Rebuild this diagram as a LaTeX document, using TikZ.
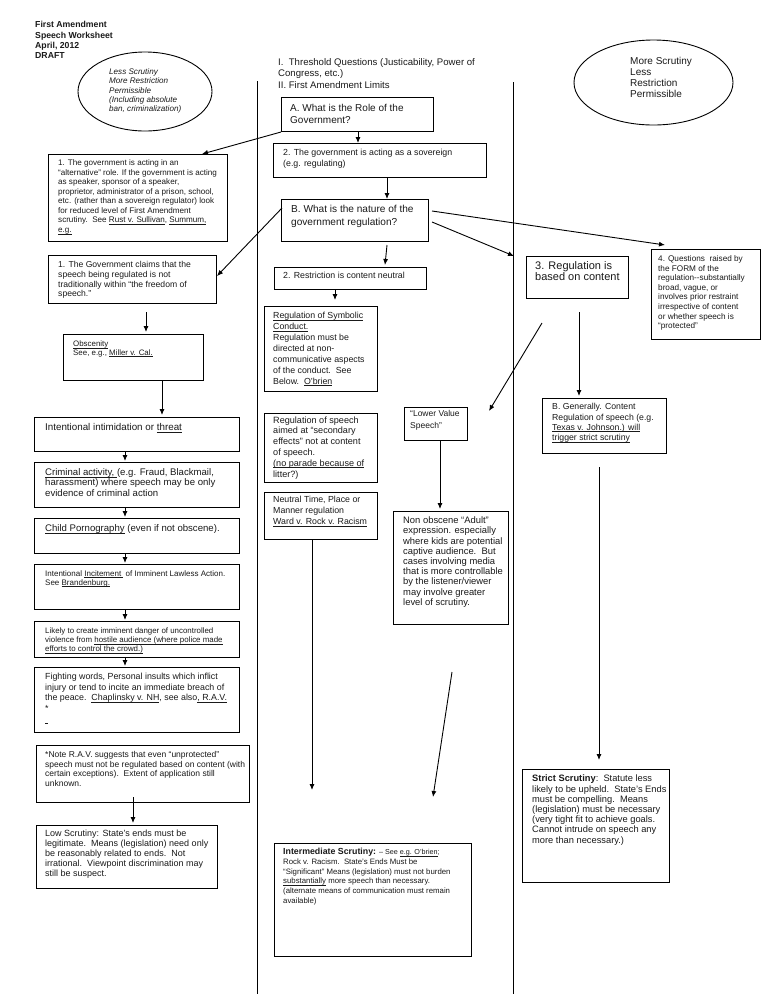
\documentclass[tikz,border=0pt]{standalone}
\usepackage{fontspec}
\setmainfont{Liberation Sans}
\usetikzlibrary{arrows.meta,calc,shapes.geometric}
\newcommand\fsz[2]{\fontsize{#1pt}{#2pt}\selectfont}
\newcommand\ul[1]{\leavevmode\setbox0=\hbox{#1}\rlap{\rule[-1.6pt]{\wd0}{0.55pt}}\box0\relax}
\definecolor{txt}{HTML}{1A1A1A}
\lineskiplimit=-100pt
\begin{document}
\begin{tikzpicture}[x=1pt,y=-1pt,
  bx/.style={draw=black, line width=1pt, inner sep=0pt, anchor=north west, rectangle},
  tx/.style={anchor=north west, inner sep=0pt, align=left, text=txt},
  arr/.style={line width=0.9pt, -{Latex[length=6pt,width=5pt]}},
  ln/.style={line width=0.9pt}]
\useasboundingbox (0,0) rectangle (768,994);
\fill[white] (0,0) rectangle (768,994);

% column separators
\coordinate (v1t) at (257.5,81);
\coordinate (v1b) at (257.5,994);
\coordinate (v2t) at (513.5,82);
\coordinate (v2b) at (513.5,994);
\draw[ln] (v1t) -- (v1b);
\draw[ln] (v2t) -- (v2b);

% header
\node[tx, font=\bfseries\fsz{8.7}{10.3}] (hdr) at (35,21.3) {First Amendment\\Speech Worksheet\\April, 2012\\DRAFT};

% ellipses
\node[ellipse, draw=black, line width=0.9pt, minimum width=134pt, minimum height=79pt, inner sep=0pt] (ellL) at (145,91.5) {};
\node[tx, font=\itshape\fsz{8.1}{9.4}] (ellLt) at (109,68.3) {Less Scrutiny\\More Restriction\\Permissible\\(Including absolute\\ban, criminalization)};
\node[ellipse, draw=black, line width=0.9pt, minimum width=159pt, minimum height=85pt, inner sep=0pt] (ellR) at (653.5,82.5) {};
\node[tx, font=\fsz{10}{11}] (ellRt) at (630,57.5) {More Scrutiny\\Less\\Restriction\\Permissible};

% middle header
\node[tx, font=\fsz{9.6}{11.1}] (hdrM) at (278,58.7) {I.\ \ Threshold Questions (Justicability, Power of\\Congress, etc.)\\II. First Amendment Limits};

% ---------- middle column boxes
\node[bx, minimum width=152pt, minimum height=34pt] (A) at (281,97) {};
\node[tx, font=\fsz{10}{12.4}] (At) at (290,104.1) {A. What is the Role of the\\Government?};
\node[bx, minimum width=213pt, minimum height=34pt] (Sov) at (273,143) {};
\node[tx, font=\fsz{8.8}{11.3}] (Sovt) at (283,149) {2. The government is acting as a sovereign\\(e.g. regulating)};
\node[bx, minimum width=147pt, minimum height=42pt] (B) at (281,199) {};
\node[tx, font=\fsz{10.1}{13}] (Bt) at (291,205.1) {B. What is the nature of the\\government regulation?};
\node[bx, minimum width=152pt, minimum height=22pt] (Neut) at (274,267) {};
\node[tx, font=\fsz{8.8}{11}] (Neutt) at (283,272.3) {2. Restriction is content neutral};
\node[bx, minimum width=113pt, minimum height=85pt] (Sym) at (264,306) {};
\node[tx, font=\fsz{8.8}{10.9}] (Symt) at (273,312.3) {\ul{Regulation of Symbolic}\\\ul{Conduct.}\\Regulation must be\\directed at non-\\communicative aspects\\of the conduct.\ \ See\\Below.\ \ \ul{O’brien}};
\node[bx, minimum width=113pt, minimum height=69pt] (Sec) at (264,413) {};
\node[tx, font=\fsz{9.1}{10.8}] (Sect) at (273,416.2) {Regulation of speech\\aimed at “secondary\\effects” not at content\\of speech.\\\ul{(no parade because of}\\litter?)};
\node[bx, minimum width=113pt, minimum height=47pt] (Time) at (264,492) {};
\node[tx, font=\fsz{8.8}{11}] (Timet) at (273,496.3) {Neutral Time, Place or\\Manner regulation\\\ul{Ward v. Rock v. Racism}};
\node[bx, minimum width=63pt, minimum height=33pt] (Low) at (404,407) {};
\node[tx, font=\fsz{8.5}{11.5}] (Lowt) at (410,410.4) {“Lower Value\\Speech”};
\node[bx, minimum width=115pt, minimum height=113pt] (NonObs) at (393,511) {};
\node[tx, font=\fsz{9.4}{10.2}] (NonObst) at (403,516.6) {Non obscene “Adult”\\expression. especially\\where kids are potential\\captive audience.\ \ But\\cases involving media\\that is more controllable\\by the listener/viewer\\may involve greater\\level of scrutiny.};
\node[bx, minimum width=197pt, minimum height=113pt] (Inter) at (274,843) {};
\node[tx, font=\fsz{7.8}{9.7}] (Intert) at (283,848.3) {{\bfseries\fsz{8.8}{9.7}Intermediate Scrutiny:} {\fsz{7.2}{9.7}– See \ul{e.g. O’brien};}\\Rock v. Racism.\ \ State’s Ends Must be\\“Significant” Means (legislation) must not burden\\\ul{substantially} more speech than necessary.\\(alternate means of communication must remain\\available)};

% ---------- right column boxes
\node[bx, minimum width=102pt, minimum height=42pt] (R3) at (526,256) {};
\node[tx, font=\fsz{11}{11.2}] (R3t) at (535,261.4) {3. Regulation is\\based on content};
\node[bx, minimum width=109pt, minimum height=90pt] (R4) at (651,249) {};
\node[tx, font=\fsz{8.2}{9.55}] (R4t) at (658,255.6) {4. Questions\ \ raised by\\the FORM of the\\regulation-{}-substantially\\broad, vague, or\\involves prior restraint\\irrespective of content\\or whether speech is\\“protected”};
\node[bx, minimum width=124pt, minimum height=55pt] (BGen) at (542,398) {};
\node[tx, font=\fsz{8.7}{10.3}] (BGent) at (552,403.3) {B. Generally. Content\\Regulation of speech (e.g.\\\ul{Texas v. Johnson.) will}\\\ul{trigger strict scrutiny}};
\node[bx, minimum width=147pt, minimum height=113pt] (Strict) at (522,769) {};
\node[tx, font=\fsz{9.3}{10.2}] (Strictt) at (532,775) {{\bfseries Strict Scrutiny}:\ \ Statute less\\likely to be upheld.\ \ State’s Ends\\must be compelling.\ \ Means\\(legislation) must be necessary\\(very tight fit to achieve goals.\\Cannot intrude on speech any\\more than necessary.)};

% ---------- left column boxes
\node[bx, minimum width=179pt, minimum height=87pt] (Alt) at (48,154) {};
\node[tx, font=\fsz{8.1}{9.5}] (Altt) at (58,159.9) {1. The government is acting in an\\“alternative” role. If the government is acting\\as speaker, sponsor of a speaker,\\proprietor, administrator of a prison, school,\\etc. (rather than a sovereign regulator) look\\for reduced level of First Amendment\\scrutiny.\ \ See \ul{Rust v. Sullivan}, \ul{Summum,}\\\ul{e.g.}};
\node[bx, minimum width=168pt, minimum height=48pt] (Gov) at (48,255) {};
\node[tx, font=\fsz{8.6}{9.6}] (Govt) at (58,261.4) {1. The Government claims that the\\speech being regulated is not\\traditionally within “the freedom of\\speech.”};
\node[bx, minimum width=140pt, minimum height=46pt] (Obs) at (63,334) {};
\node[tx, font=\fsz{7.9}{8.4}] (Obst) at (73,341) {\ul{Obscenity}\\See, e.g., \ul{Miller v. Cal.}};
\node[bx, minimum width=205pt, minimum height=34pt] (Intim) at (34,417) {};
\node[tx, font=\fsz{9.8}{10.5}] (Intimt) at (45,423.2) {Intentional intimidation or \ul{threat}};
\node[bx, minimum width=205pt, minimum height=45pt] (Crim) at (34,462) {};
\node[tx, font=\fsz{9.6}{10.5}] (Crimt) at (45,468.3) {\ul{Criminal activity, }(e.g. Fraud, Blackmail,\\harassment) where speech may be only\\evidence of criminal action};
\node[bx, minimum width=205pt, minimum height=35pt] (Child) at (34,518) {};
\node[tx, font=\fsz{9.6}{10.5}] (Childt) at (45,524.7) {\ul{Child Pornography} (even if not obscene).};
\node[bx, minimum width=205pt, minimum height=45pt] (Incite) at (34,564) {};
\node[tx, font=\fsz{8}{9}] (Incitet) at (45,570) {Intentional \ul{Incitement\ } of Imminent Lawless Action.\\See \ul{Brandenburg.}};
\node[bx, minimum width=205pt, minimum height=36pt] (Likely) at (34,621) {};
\node[tx, font=\fsz{7.9}{9.3}] (Likelyt) at (45,627.4) {Likely to create imminent danger of uncontrolled\\violence from \ul{hostile audience (where police made}\\\ul{efforts to control the crowd.)}};
\node[bx, minimum width=205pt, minimum height=65pt] (Fight) at (34,667) {};
\node[tx, font=\fsz{8.85}{10.6}] (Fightt) at (45,673) {Fighting words, Personal insults which inflict\\injury or tend to incite an immediate breach of\\the peace.\ \ \ul{Chaplinsky v. NH}, see also\ul{, R.A.V.}\\*\\\ul{\hspace{3pt}}};
\node[bx, minimum width=213pt, minimum height=57pt] (Note) at (36,745) {};
\node[tx, font=\fsz{8.5}{9.5}] (Notet) at (45,751.4) {*Note R.A.V. suggests that even “unprotected”\\speech must not be regulated based on content (with\\certain exceptions).\ \ Extent of application still\\unknown.};
\node[bx, minimum width=181pt, minimum height=63pt] (LowS) at (36,825) {};
\node[tx, font=\fsz{9}{9.9}] (LowSt) at (45,830.2) {Low Scrutiny: State’s ends must be\\legitimate.\ \ Means (legislation) need only\\be reasonably related to ends.\ \ Not\\irrational.\ \ Viewpoint discrimination may\\still be suspect.};

% ---------- connector helper coordinates
\coordinate (cL) at (125,0);
\coordinate (cN) at (133,0);
\coordinate (cA) at (358,0);
\coordinate (cS) at (387,0);
\coordinate (c202) at (202,0);
\coordinate (bNa) at (387,245);
\coordinate (bNb) at (385,265);
\coordinate (nSa) at (335,300);
\coordinate (bL) at (282,208);
\coordinate (gOa) at (146,312);
\coordinate (gOb) at (146,332);
\coordinate (oIb) at (162,415);
\coordinate (bR1) at (432,211);
\coordinate (bR1e) at (665,245);
\coordinate (bR2) at (432,222);
\coordinate (bR2e) at (514,256);
\coordinate (r3a) at (542,323);
\coordinate (r3le) at (489,411);
\coordinate (r3b) at (579,312);
\coordinate (r3be) at (579,396);
\coordinate (lwe) at (440,509);
\coordinate (noa) at (452,672);
\coordinate (noe) at (433,797);
\coordinate (tme) at (312,790);
\coordinate (bga) at (599,467);
\coordinate (bge) at (599,760);
\coordinate (nla) at (133,797);

% ---------- connectors
\draw[arr] (A.south west) -- (Alt.north -| c202);
\draw[arr] (A.south -| cA) -- (Sov.north -| cA);
\draw[arr] (Sov.south -| cS) -- (B.north -| cS);
\draw[arr] (bNa) -- (bNb);
\draw[arr] (Neut.south -| nSa) -- (nSa);
\draw[arr] (bL) -- (Gov.east |- 0,276);
\draw[arr] (gOa) -- (gOb);
\draw[arr] (Obs.south -| oIb) -- (oIb);
\draw[arr] (Intim.south -| cL) -- ([yshift=1pt]Crim.north -| cL);
\draw[arr] (Crim.south -| cL) -- ([yshift=1pt]Child.north -| cL);
\draw[arr] (Child.south -| cL) -- ([yshift=1pt]Incite.north -| cL);
\draw[arr] (Incite.south -| cL) -- ([yshift=1pt]Likely.north -| cL);
\draw[arr] (Likely.south -| cL) -- ([yshift=1pt]Fight.north -| cL);
\draw[arr] (nla) -- ([yshift=2pt]LowS.north -| cN);
\draw[arr] (bR1) -- (bR1e);
\draw[arr] (bR2) -- (bR2e);
\draw[arr] (r3a) -- (r3le);
\draw[arr] (r3b) -- (r3be);
\draw[arr] (Low.south -| lwe) -- (lwe);
\draw[arr] (noa) -- (noe);
\draw[arr] (Time.south -| tme) -- (tme);
\draw[arr] (bga) -- (bge);
\end{tikzpicture}
\end{document}
